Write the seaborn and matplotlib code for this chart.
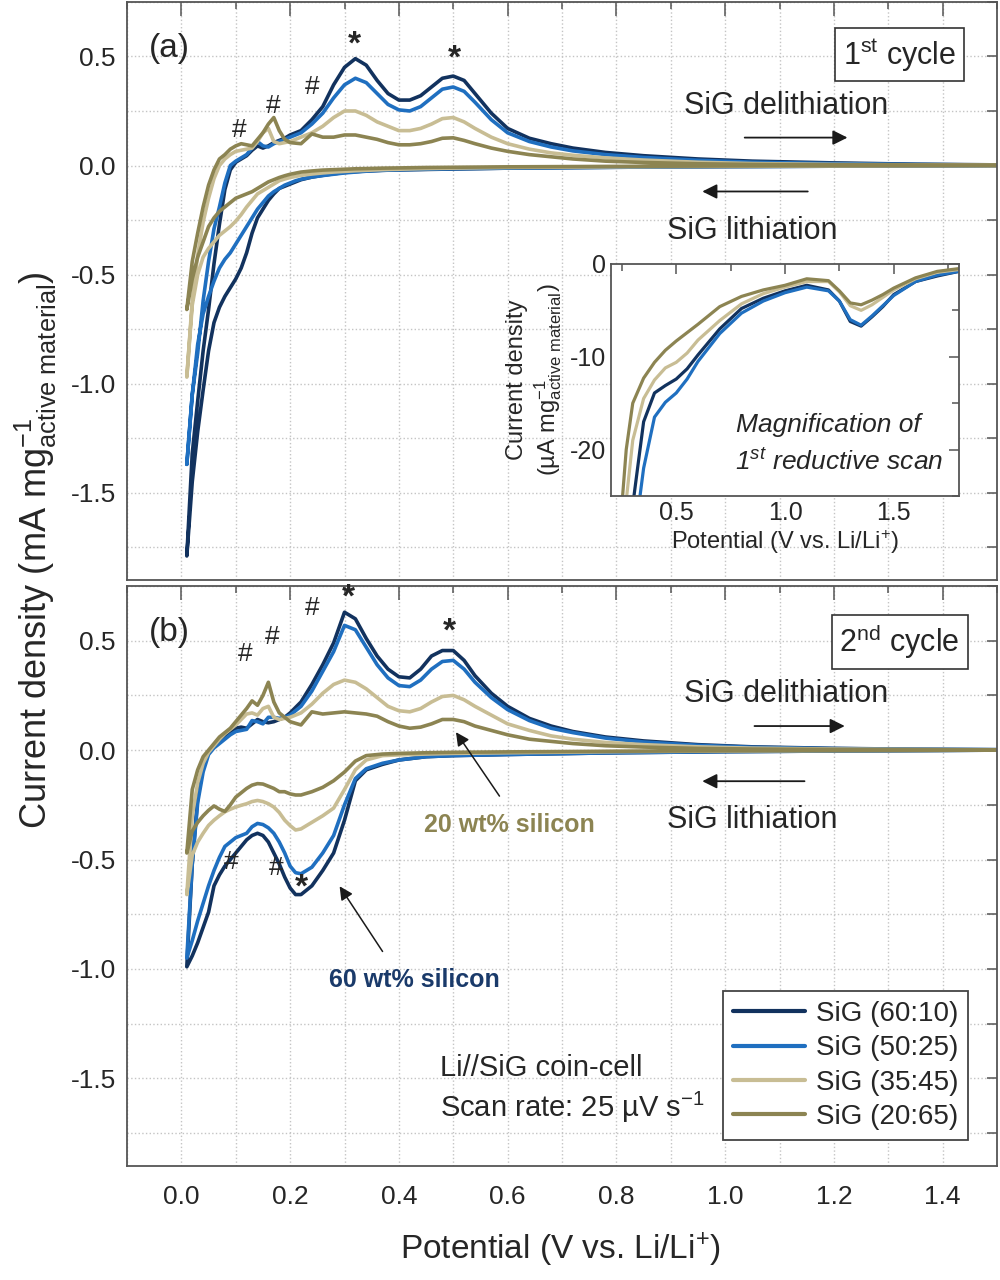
"""
Cyclic voltammograms of SiG electrodes (1st and 2nd cycle) with an inset
magnifying the first reductive scan.
"""

import matplotlib

matplotlib.use("Agg")
import matplotlib.pyplot as plt
import pandas as pd
import seaborn as sns
from matplotlib.ticker import FormatStrFormatter, MultipleLocator

SAMPLES = ["SiG (60:10)", "SiG (50:25)", "SiG (35:45)", "SiG (20:65)"]
COLORS = ["#12325e", "#1f6fc0", "#c8bd94", "#8c8452"]

# potentials (V vs. Li/Li+) shared by the digitised branches
ANODIC_V = [0.01, 0.02, 0.03, 0.04, 0.05, 0.06, 0.07, 0.08, 0.09, 0.10,
            0.11, 0.12, 0.13, 0.14, 0.15, 0.16, 0.17, 0.18, 0.19, 0.20,
            0.22, 0.24, 0.26, 0.28, 0.30, 0.32, 0.34, 0.36, 0.38, 0.40,
            0.42, 0.44, 0.46, 0.48, 0.50, 0.52, 0.54, 0.57, 0.60, 0.64,
            0.68, 0.72, 0.78, 0.85, 0.95, 1.05, 1.20, 1.35, 1.50]
CATHODIC_V = [1.50, 1.20, 1.00, 0.80, 0.60, 0.50, 0.45, 0.40, 0.37, 0.34,
              0.32, 0.30, 0.28, 0.26, 0.24, 0.22, 0.21, 0.20, 0.19, 0.18,
              0.17, 0.16, 0.15, 0.14, 0.13, 0.12, 0.11, 0.10, 0.09, 0.08,
              0.07, 0.06, 0.05, 0.04, 0.03, 0.02, 0.01]
INSET_V = [1.80, 1.70, 1.60, 1.50, 1.45, 1.40, 1.35, 1.30, 1.25, 1.20,
           1.10, 1.00, 0.90, 0.80, 0.70, 0.60, 0.55, 0.50, 0.45, 0.40,
           0.35, 0.30, 0.27, 0.25]

# 1st cycle, current density in mA mg-1
CYC1_CAT_60 = [0.0, -0.003, -0.005, -0.008, -0.012, -0.016, -0.018, -0.02, -0.022, -0.025,
               -0.028, -0.032, -0.038, -0.045, -0.053, -0.065, -0.075, -0.085, -0.095, -0.105,
               -0.13, -0.16, -0.20, -0.24, -0.31, -0.40, -0.47, -0.52, -0.56, -0.60,
               -0.65, -0.72, -0.85, -1.03, -1.22, -1.45, -1.79]
CYC1_CAT_50 = [0.0, -0.003, -0.005, -0.008, -0.012, -0.015, -0.017, -0.02, -0.022, -0.026,
               -0.03, -0.034, -0.04, -0.046, -0.053, -0.063, -0.07, -0.08, -0.09, -0.105,
               -0.12, -0.14, -0.17, -0.20, -0.24, -0.28, -0.32, -0.36, -0.40, -0.43,
               -0.47, -0.53, -0.60, -0.68, -0.82, -1.05, -1.37]
CYC1_CAT_35 = [0.0, -0.002, -0.004, -0.006, -0.009, -0.012, -0.014, -0.017, -0.019, -0.022,
               -0.024, -0.027, -0.03, -0.034, -0.039, -0.045, -0.05, -0.055, -0.062, -0.07,
               -0.085, -0.10, -0.115, -0.13, -0.16, -0.19, -0.225, -0.255, -0.28, -0.30,
               -0.32, -0.35, -0.38, -0.42, -0.50, -0.64, -0.97]
CYC1_CAT_20 = [0.0, -0.001, -0.002, -0.004, -0.006, -0.008, -0.009, -0.011, -0.012, -0.014,
               -0.015, -0.017, -0.019, -0.021, -0.025, -0.03, -0.035, -0.04, -0.047, -0.055,
               -0.065, -0.075, -0.09, -0.105, -0.12, -0.13, -0.14, -0.15, -0.17, -0.19,
               -0.21, -0.24, -0.28, -0.35, -0.42, -0.52, -0.66]
CYC1_ANO_60 = [-1.79, -1.32, -1.08, -0.85, -0.66, -0.45, -0.27, -0.11, -0.02, 0.015,
               0.03, 0.045, 0.07, 0.09, 0.08, 0.09, 0.105, 0.115, 0.125, 0.14,
               0.16, 0.21, 0.27, 0.37, 0.45, 0.49, 0.46, 0.39, 0.33, 0.30,
               0.30, 0.32, 0.36, 0.40, 0.41, 0.39, 0.33, 0.24, 0.17, 0.125,
               0.10, 0.08, 0.06, 0.045, 0.03, 0.02, 0.012, 0.006, 0.003]
CYC1_ANO_50 = [-1.37, -1.05, -0.86, -0.62, -0.44, -0.29, -0.19, -0.08, 0.0, 0.02,
               0.035, 0.05, 0.08, 0.11, 0.09, 0.085, 0.10, 0.11, 0.12, 0.13,
               0.15, 0.19, 0.24, 0.31, 0.37, 0.40, 0.38, 0.33, 0.28, 0.255,
               0.25, 0.27, 0.31, 0.35, 0.36, 0.34, 0.29, 0.21, 0.15, 0.11,
               0.085, 0.067, 0.05, 0.037, 0.024, 0.015, 0.009, 0.005, 0.002]
CYC1_ANO_35 = [-0.97, -0.62, -0.41, -0.26, -0.15, -0.06, 0.0, 0.03, 0.05, 0.065,
               0.07, 0.075, 0.08, 0.11, 0.15, 0.17, 0.11, 0.10, 0.105, 0.11,
               0.13, 0.15, 0.18, 0.22, 0.25, 0.25, 0.23, 0.20, 0.18, 0.16,
               0.16, 0.17, 0.19, 0.215, 0.22, 0.20, 0.17, 0.13, 0.10, 0.075,
               0.058, 0.047, 0.035, 0.025, 0.015, 0.009, 0.005, 0.003, 0.001]
CYC1_ANO_20 = [-0.66, -0.44, -0.31, -0.19, -0.09, -0.02, 0.03, 0.05, 0.075, 0.09,
               0.10, 0.095, 0.09, 0.12, 0.15, 0.19, 0.22, 0.16, 0.12, 0.105,
               0.10, 0.145, 0.13, 0.13, 0.14, 0.14, 0.13, 0.12, 0.105, 0.095,
               0.095, 0.10, 0.11, 0.125, 0.127, 0.115, 0.10, 0.08, 0.065, 0.05,
               0.04, 0.03, 0.02, 0.014, 0.008, 0.005, 0.003, 0.002, 0.001]

# 2nd cycle
CYC2_CAT_60 = [0.0, -0.004, -0.007, -0.012, -0.02, -0.025, -0.03, -0.045, -0.065, -0.09,
               -0.14, -0.32, -0.47, -0.55, -0.62, -0.66, -0.66, -0.63, -0.58, -0.52,
               -0.47, -0.42, -0.39, -0.38, -0.39, -0.41, -0.44, -0.47, -0.50, -0.53,
               -0.57, -0.62, -0.74, -0.81, -0.88, -0.94, -0.99]
CYC2_CAT_50 = [0.0, -0.004, -0.007, -0.012, -0.02, -0.025, -0.03, -0.045, -0.06, -0.085,
               -0.13, -0.25, -0.39, -0.47, -0.535, -0.565, -0.56, -0.53, -0.47, -0.42,
               -0.38, -0.355, -0.34, -0.335, -0.35, -0.38, -0.39, -0.40, -0.42, -0.44,
               -0.49, -0.55, -0.62, -0.70, -0.78, -0.87, -0.95]
CYC2_CAT_35 = [0.0, -0.002, -0.004, -0.007, -0.012, -0.015, -0.018, -0.022, -0.025, -0.045,
               -0.09, -0.18, -0.265, -0.30, -0.33, -0.36, -0.365, -0.345, -0.32, -0.285,
               -0.26, -0.245, -0.235, -0.23, -0.235, -0.245, -0.252, -0.26, -0.27, -0.282,
               -0.30, -0.32, -0.344, -0.38, -0.42, -0.48, -0.66]
CYC2_CAT_20 = [0.0, -0.002, -0.003, -0.005, -0.008, -0.01, -0.012, -0.015, -0.018, -0.025,
               -0.05, -0.10, -0.14, -0.17, -0.19, -0.205, -0.205, -0.20, -0.19, -0.19,
               -0.175, -0.165, -0.155, -0.153, -0.16, -0.175, -0.195, -0.215, -0.25, -0.28,
               -0.27, -0.255, -0.275, -0.30, -0.33, -0.37, -0.47]
CYC2_ANO_60 = [-0.99, -0.52, -0.22, -0.08, -0.01, 0.02, 0.045, 0.06, 0.08, 0.10,
               0.105, 0.10, 0.12, 0.14, 0.13, 0.125, 0.13, 0.14, 0.15, 0.17,
               0.22, 0.30, 0.39, 0.49, 0.63, 0.60, 0.51, 0.43, 0.37, 0.335,
               0.33, 0.37, 0.43, 0.455, 0.455, 0.41, 0.34, 0.26, 0.20, 0.145,
               0.11, 0.085, 0.06, 0.042, 0.025, 0.015, 0.008, 0.004, 0.002]
CYC2_ANO_50 = [-0.95, -0.52, -0.24, -0.10, -0.02, 0.01, 0.03, 0.05, 0.07, 0.085,
               0.09, 0.095, 0.135, 0.13, 0.12, 0.15, 0.15, 0.145, 0.15, 0.16,
               0.20, 0.27, 0.36, 0.45, 0.57, 0.55, 0.47, 0.39, 0.33, 0.295,
               0.29, 0.32, 0.37, 0.405, 0.41, 0.37, 0.31, 0.24, 0.185, 0.135,
               0.10, 0.08, 0.055, 0.037, 0.022, 0.013, 0.007, 0.004, 0.002]
CYC2_ANO_35 = [-0.66, -0.30, -0.15, -0.06, -0.01, 0.02, 0.05, 0.075, 0.095, 0.115,
               0.14, 0.165, 0.17, 0.16, 0.19, 0.20, 0.15, 0.14, 0.145, 0.15,
               0.17, 0.21, 0.26, 0.30, 0.32, 0.31, 0.28, 0.24, 0.20, 0.18,
               0.175, 0.19, 0.22, 0.245, 0.25, 0.23, 0.20, 0.16, 0.12, 0.09,
               0.065, 0.05, 0.035, 0.025, 0.015, 0.009, 0.005, 0.003, 0.001]
CYC2_ANO_20 = [-0.47, -0.18, -0.09, -0.03, 0.0, 0.03, 0.06, 0.08, 0.10, 0.13,
               0.16, 0.19, 0.225, 0.205, 0.25, 0.31, 0.22, 0.17, 0.15, 0.13,
               0.115, 0.175, 0.165, 0.17, 0.175, 0.17, 0.165, 0.155, 0.13, 0.11,
               0.10, 0.105, 0.12, 0.14, 0.14, 0.13, 0.11, 0.09, 0.07, 0.05,
               0.04, 0.03, 0.02, 0.014, 0.008, 0.005, 0.003, 0.002, 0.001]

# inset: 1st reductive scan in uA mg-1
INSET_60 = [-0.8, -1.3, -1.9, -3.3, -4.6, -5.7, -6.7, -6.2, -4.0, -2.8,
            -2.3, -2.9, -3.7, -4.8, -7.0, -9.8, -11.3, -12.4, -13.1, -13.9,
            -17.0, -26.0, -33.0, -38.0]
INSET_50 = [-0.8, -1.2, -1.9, -3.4, -4.5, -5.6, -6.6, -6.0, -4.0, -2.9,
            -2.5, -3.1, -4.0, -5.3, -7.5, -10.5, -12.4, -13.9, -14.9, -16.5,
            -22.0, -31.0, -36.0, -40.0]
INSET_35 = [-0.6, -0.9, -1.6, -2.8, -3.6, -4.4, -5.0, -4.5, -3.0, -1.9,
            -1.9, -2.5, -3.2, -4.3, -6.1, -8.2, -9.6, -10.6, -11.2, -12.5,
            -14.5, -19.0, -25.5, -29.0]
INSET_20 = [-0.5, -0.8, -1.5, -2.6, -3.3, -3.9, -4.4, -4.2, -2.9, -1.8,
            -1.6, -2.3, -2.8, -3.5, -4.6, -6.5, -7.4, -8.3, -9.3, -10.6,
            -12.3, -15.0, -20.0, -26.0]

FONT = ["Liberation Sans", "DejaVu Sans"]
PALETTE = dict(zip(SAMPLES, COLORS))
SPINE = "#555555"


def cv_frame(cathodic: list[list[float]], anodic: list[list[float]]) -> pd.DataFrame:
    """One closed loop per sample: cathodic sweep down, then anodic sweep up."""
    frames = []
    for name, cat, ano in zip(SAMPLES, cathodic, anodic):
        frames.append(pd.DataFrame({
            "potential": CATHODIC_V + ANODIC_V,
            "current": cat + ano,
            "sample": name,
        }))
    return pd.concat(frames, ignore_index=True)


def style_main(ax: plt.Axes, show_x: bool) -> None:
    ax.set_xlim(-0.1, 1.5)
    ax.set_ylim(-1.9, 0.75)
    ax.xaxis.set_major_locator(MultipleLocator(0.2))
    ax.xaxis.set_minor_locator(MultipleLocator(0.1))
    ax.yaxis.set_major_locator(MultipleLocator(0.5))
    ax.yaxis.set_minor_locator(MultipleLocator(0.25))
    ax.xaxis.set_major_formatter(FormatStrFormatter("%.1f"))
    ax.yaxis.set_major_formatter(FormatStrFormatter("%.1f"))
    ax.grid(which="both", ls=":", color="#c4c4c4", lw=1.0)
    ax.set_axisbelow(True)
    ax.tick_params(which="both", direction="in", top=True, right=True,
                   color=SPINE, width=1.1, labelsize=19)
    ax.tick_params(axis="x", which="major", length=10, pad=14)
    ax.tick_params(axis="x", which="minor", length=5)
    ax.tick_params(axis="y", which="both", length=7, pad=8)
    ax.tick_params(axis="x", labelbottom=show_x)
    for sp in ax.spines.values():
        sp.set_color(SPINE)
        sp.set_linewidth(1.3)
    ax.set_xlabel("")
    ax.set_ylabel("")


def arrow(ax, head, tail, lw=1.3, scale=22):
    ax.annotate("", xy=head, xytext=tail,
                arrowprops=dict(arrowstyle="-|>", color="#1a1a1a", lw=lw,
                                mutation_scale=scale, shrinkA=0, shrinkB=0))


def direction_labels(ax, y_deli, y_deli_arrow, y_li, y_li_arrow, deli_x, li_x):
    ax.text(1.113, y_deli, "SiG delithiation", fontsize=22, ha="center", va="center")
    arrow(ax, (deli_x[1], y_deli_arrow), (deli_x[0], y_deli_arrow))
    ax.text(1.05, y_li, "SiG lithiation", fontsize=22, ha="center", va="center")
    arrow(ax, (li_x[1], y_li_arrow), (li_x[0], y_li_arrow))


def cycle_box(ax, label, y):
    ax.text(1.321, y, label, fontsize=22, ha="center", va="center",
            bbox=dict(boxstyle="square,pad=0.25", fc="white", ec="#333333", lw=1.2))


def marks(ax, items, text, size, weight="normal"):
    for x, y in items:
        ax.text(x, y, text, fontsize=size, ha="center", va="center", fontweight=weight)


def main() -> int:
    sns.set_theme(style="white")
    plt.rcParams["font.family"] = FONT
    plt.rcParams["mathtext.fontset"] = "custom"
    plt.rcParams["mathtext.rm"] = "Liberation Sans"
    plt.rcParams["mathtext.it"] = "Liberation Sans:italic"
    plt.rcParams["mathtext.bf"] = "Liberation Sans:bold"
    plt.rcParams["axes.unicode_minus"] = False

    cyc1 = cv_frame([CYC1_CAT_60, CYC1_CAT_50, CYC1_CAT_35, CYC1_CAT_20],
                    [CYC1_ANO_60, CYC1_ANO_50, CYC1_ANO_35, CYC1_ANO_20])
    cyc2 = cv_frame([CYC2_CAT_60, CYC2_CAT_50, CYC2_CAT_35, CYC2_CAT_20],
                    [CYC2_ANO_60, CYC2_ANO_50, CYC2_ANO_35, CYC2_ANO_20])
    inset = pd.concat([
        pd.DataFrame({"potential": INSET_V, "current": vals, "sample": name})
        for name, vals in zip(SAMPLES, [INSET_60, INSET_50, INSET_35, INSET_20])
    ], ignore_index=True)

    fig = plt.figure(figsize=(10, 12.8), dpi=100)
    ax_a = fig.add_axes([0.127, 0.5469, 0.870, 0.4516])
    ax_b = fig.add_axes([0.127, 0.0891, 0.870, 0.4531])
    ax_in = fig.add_axes([0.611, 0.6125, 0.348, 0.1813])

    line_kw = dict(x="potential", y="current", hue="sample", hue_order=SAMPLES,
                   palette=PALETTE, sort=False, estimator=None, lw=2.6)
    sns.lineplot(data=cyc1, ax=ax_a, legend=False, **line_kw)
    sns.lineplot(data=cyc2, ax=ax_b, **line_kw)
    style_main(ax_a, show_x=False)
    style_main(ax_b, show_x=True)

    # panel (a)
    ax_a.text(-0.022, 0.537, "(a)", fontsize=24, ha="center", va="center")
    cycle_box(ax_a, r"1$^{\mathrm{st}}$ cycle", 0.507)
    marks(ax_a, [(0.107, 0.165), (0.169, 0.271), (0.241, 0.362)], "#", 19)
    marks(ax_a, [(0.318, 0.55), (0.502, 0.486)], "*", 24, "bold")
    direction_labels(ax_a, 0.275, 0.128, -0.298, -0.119, (1.036, 1.225), (1.152, 0.958))

    # panel (b)
    ax_b.text(-0.022, 0.537, "(b)", fontsize=24, ha="center", va="center")
    cycle_box(ax_b, r"2$^{\mathrm{nd}}$ cycle", 0.495)
    marks(ax_b, [(0.118, 0.44), (0.167, 0.518), (0.241, 0.651),
                 (0.092, -0.509), (0.175, -0.537)], "#", 19)
    marks(ax_b, [(0.307, 0.693), (0.493, 0.541), (0.221, -0.628)], "*", 24, "bold")
    direction_labels(ax_b, 0.257, 0.11, -0.317, -0.142, (1.054, 1.22), (1.146, 0.958))
    ax_b.text(0.603, -0.344, "20 wt% silicon", fontsize=18, fontweight="bold",
              color=COLORS[3], ha="center", va="center")
    arrow(ax_b, (0.505, 0.082), (0.585, -0.21), lw=1.1, scale=20)
    ax_b.text(0.429, -1.05, "60 wt% silicon", fontsize=18, fontweight="bold",
              color="#1a3a6a", ha="center", va="center")
    arrow(ax_b, (0.291, -0.622), (0.37, -0.92), lw=1.1, scale=20)
    ax_b.text(0.475, -1.454, "Li//SiG coin-cell", fontsize=21, ha="left", va="center")
    ax_b.text(0.475, -1.633, "Scan rate: 25 µV s$^{-1}$", fontsize=21, ha="left", va="center")

    sns.move_legend(ax_b, "lower right", bbox_to_anchor=(0.967, 0.045), title=None,
                    frameon=True, fontsize=20, handlelength=2.6, handletextpad=0.4,
                    labelspacing=0.3, borderpad=0.35, borderaxespad=0, fancybox=False,
                    framealpha=1)
    leg = ax_b.get_legend()
    leg.get_frame().set_edgecolor("#444444")
    leg.get_frame().set_linewidth(1.3)
    for line in leg.get_lines():
        line.set_linewidth(3.0)

    # inset: magnified first reductive scan
    sns.lineplot(data=inset, ax=ax_in, legend=False, x="potential", y="current",
                 hue="sample", hue_order=SAMPLES, palette=PALETTE, sort=False,
                 estimator=None, lw=2.3)
    ax_in.set_xlim(0.2, 1.8)
    ax_in.set_ylim(-25, 0)
    ax_in.xaxis.set_major_locator(MultipleLocator(0.5))
    ax_in.xaxis.set_minor_locator(MultipleLocator(0.25))
    ax_in.yaxis.set_major_locator(MultipleLocator(10))
    ax_in.yaxis.set_minor_locator(MultipleLocator(5))
    ax_in.xaxis.set_major_formatter(FormatStrFormatter("%.1f"))
    ax_in.yaxis.set_major_formatter(FormatStrFormatter("%d"))
    ax_in.tick_params(which="both", direction="in", top=True, right=True,
                      color=SPINE, width=1.1, labelsize=18)
    ax_in.tick_params(which="major", length=7)
    ax_in.tick_params(which="minor", length=5)
    for sp in ax_in.spines.values():
        sp.set_color(SPINE)
        sp.set_linewidth(1.3)
    ax_in.set_facecolor("white")
    ax_in.set_xlabel("Potential (V vs. Li/Li$^{+}$)", fontsize=17, labelpad=2)
    ax_in.set_ylabel("Current density\n(µA mg$^{-1}_{\\mathrm{active\\ material}}$)",
                     fontsize=17, labelpad=4)
    ax_in.text(1.2, -17.3, "Magnification of", fontsize=19, style="italic",
               ha="center", va="center")
    ax_in.text(1.25, -21.3, r"1$^{st}$ reductive scan", fontsize=19, style="italic",
               ha="center", va="center")

    fig.text(0.036, 0.57, r"Current density (mA mg$^{-1}_{\mathrm{active\ material}}$)",
             rotation=90, fontsize=26, ha="center", va="center")
    fig.text(0.56, 0.0234, r"Potential (V vs. Li/Li$^{+}$)", fontsize=24,
             ha="center", va="center")

    fig.savefig("out.png", dpi=100)
    plt.close(fig)
    return 0


if __name__ == "__main__":
    raise SystemExit(main())
